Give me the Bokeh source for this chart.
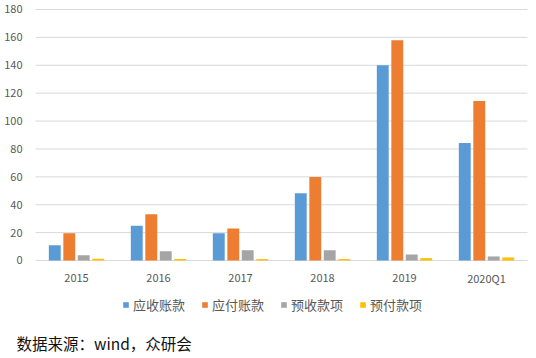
from bokeh.plotting import figure
from bokeh.models import ColumnDataSource, Legend, LegendItem, Label, Range1d
from bokeh.core.properties import value
from bokeh.transform import dodge
from bokeh.embed import file_html
from bokeh.resources import INLINE

categories = ["2015", "2016", "2017", "2018", "2019", "2020Q1"]
receivable = [11, 25, 19.6, 48.3, 140, 84.2]       # 应收账款
payable = [19.6, 33.2, 23, 59.8, 158, 114.3]       # 应付账款
advance_recv = [3.8, 6.7, 7.4, 7.4, 4.3, 2.9]      # 预收款项
prepaid = [1.2, 1.0, 1.0, 1.0, 1.7, 2.2]           # 预付款项
series_names = ["应收账款", "应付账款", "预收款项", "预付款项"]
colors = ["#5B9BD5", "#ED7D31", "#A5A5A5", "#FFC000"]
y_ticks = [0, 20, 40, 60, 80, 100, 120, 140, 160, 180]
source_text = "数据来源：wind，众研会"

FONT = "Noto Sans CJK SC"
idx = list(range(len(categories)))
src = ColumnDataSource(dict(idx=idx, cat=categories, a=receivable, b=payable, c=advance_recv, d=prepaid))
n = len(categories)

# frame covers whole canvas; chart area mapped so groups are 82px apart
p = figure(width=536, height=358, x_range=Range1d(-0.9268, 5.6098), y_range=Range1d(-70.28, 186.45),
           output_backend="svg", toolbar_location=None, x_axis_location=None, y_axis_location=None,
           min_border=0, min_border_left=0, min_border_right=0, min_border_top=0, min_border_bottom=0)
p.outline_line_color = None
p.grid.visible = False

# gridlines (incl. baseline at 0)
p.segment(x0=[-0.5] * len(y_ticks), x1=[n - 0.5] * len(y_ticks), y0=y_ticks, y1=y_ticks,
          line_color="#D9D9D9", line_width=1)

offsets = [-0.265, -0.088, 0.088, 0.265]
renderers = []
for key, off, col in zip(["a", "b", "c", "d"], offsets, colors):
    r = p.vbar(x=dodge("idx", off), top=key, width=0.145, source=src,
               fill_color=col, line_color=None)
    renderers.append(r)

# y tick labels
p.text(x=[-0.5] * len(y_ticks), y=y_ticks, text=[str(t) for t in y_ticks], x_offset=-13,
       text_align="right", text_baseline="middle", text_font=value(FONT),
       text_font_size="11px", text_color="#595959")
# x category labels
p.text(x="idx", y=0, text="cat", source=src, y_offset=18, text_align="center",
       text_baseline="middle", text_font=value(FONT), text_font_size="11px", text_color="#595959")

legend = Legend(items=[LegendItem(label=nm, renderers=[r]) for nm, r in zip(series_names, renderers)],
                orientation="horizontal", location=(122, 44),
                glyph_width=7, glyph_height=7, label_standoff=4, spacing=16,
                label_text_font=FONT, label_text_font_size="13px", label_text_color="#595959",
                background_fill_alpha=0, border_line_color=None, padding=0, margin=0)
p.add_layout(legend, "center")

p.add_layout(Label(x=16, y=16, x_units="screen", y_units="screen", text=source_text,
                   text_font=FONT, text_font_size="15.5px", text_color="#111111",
                   text_baseline="middle"))

open("out.html", "w").write(file_html(p, INLINE))
